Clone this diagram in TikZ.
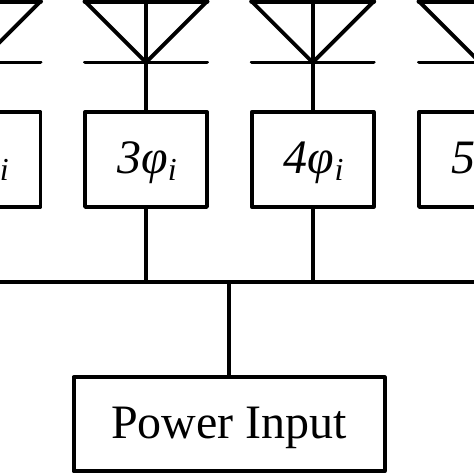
\documentclass[tikz,border=0pt]{standalone}
\usepackage{fontspec}
\usetikzlibrary{calc}
\setmainfont{Liberation Serif}
\newcommand{\ph}[1]{\textit{\hspace{2pt}#1\char"03C6\raisebox{-7pt}{\fontsize{32}{32}\selectfont i}}}
\tikzset{
  wire/.style={line width=3.8pt,black,line cap=round,line join=round},
  barthick/.style={line width=5pt,black,line cap=round},
  shifter/.style={draw=black,line width=3.8pt,rectangle,minimum width=122pt,minimum height=95pt,
    outer sep=0pt,inner sep=0pt,font=\fontsize{48}{48}\selectfont,text height=33pt,text depth=4.8pt,line join=round},
  inputbox/.style={shifter,minimum width=311pt,minimum height=94.3pt}
}
\begin{document}
\begin{tikzpicture}[x=1pt,y=-1pt]
\useasboundingbox (0,0) rectangle (474,474);
\clip (0,0) rectangle (474,474);
\fill[white] (0,0) rectangle (474,474);
\node[shifter] (b2) at (-20.5,159.4) {\hspace{-3pt}\ph{2}};
\node[shifter] (b3) at (146,159.4) {\ph{3}};
\node[shifter] (b4) at (312.7,159.4) {\ph{4}};
\node[shifter] (b5) at (480,159.4) {\ph{5}};
\node[inputbox] (power) at (229.1,424.2) {Power Input};
\coordinate (busL) at (-5,282);
\coordinate (busR) at (480,282);
\draw[wire,line cap=butt] (busL) -- (busR);
\coordinate (busC) at (power.north |- busL);
\draw[wire,line cap=butt] (power.north) -- (busC);
\foreach \n in {3,4}{
  \coordinate (bus\n) at (b\n.south |- busL);
  \draw[wire,line cap=butt] (b\n.south) -- (bus\n);
}
\foreach \n in {2,3,4,5}{
  \coordinate (apex\n) at ($(b\n.north)+(0,-49.5)$);
  \coordinate (tl\n) at ($(b\n.north west)+(0,-110.5)$);
  \coordinate (tr\n) at ($(b\n.north east)+(0,-110.5)$);
  \coordinate (tc\n) at ($(b\n.north)+(0,-110.5)$);
  \coordinate (ll\n) at (tl\n |- apex\n);
  \coordinate (lr\n) at (tr\n |- apex\n);
  \draw[barthick] (tl\n) -- (tr\n);
  \draw[wire] (tl\n) -- (apex\n) -- (tr\n);
  \draw[wire] (ll\n) -- (lr\n);
  \draw[wire,line cap=butt] (tc\n) -- (b\n.north);
}
\end{tikzpicture}
\end{document}
